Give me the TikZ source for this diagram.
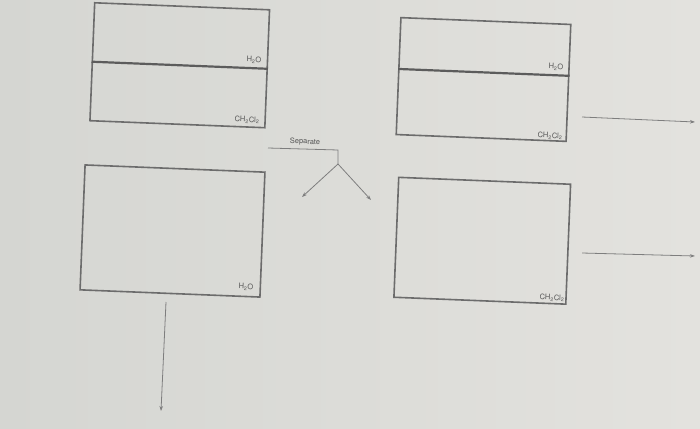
\documentclass[tikz,border=0pt]{standalone}
\usepackage{fontspec}
\setsansfont{TeX Gyre Heros}
\usetikzlibrary{calc,positioning,arrows.meta}
\definecolor{paperL}{HTML}{D5D6D2}
\definecolor{paperR}{HTML}{E3E2DE}
\definecolor{edge}{HTML}{6C6C6C}
\definecolor{wire}{HTML}{7E7E7E}
\definecolor{ink}{HTML}{555555}
\tikzset{
box/.style={draw=edge, line width=1.6pt, rectangle, inner sep=0pt, rotate=-2.3},
divider/.style={draw=edge!85!black, line width=2.2pt},
tag/.style={font=\sffamily\fontsize{7.5}{9}\selectfont, text=ink, inner sep=0pt, rotate=-2.3},
flow/.style={draw=wire, line width=0.8pt, -{Stealth[length=5pt,width=3.5pt]}},
}
\begin{document}
\begin{tikzpicture}[x=1pt,y=-1pt]
\fill[left color=paperL, right color=paperR] (0,0) rectangle (700,428);
\useasboundingbox (0,0) rectangle (700,428);

\node[box, minimum width=175pt, minimum height=118pt] (mixA) at (179.75,65.25) {};
\node[box, minimum width=170pt, minimum height=117pt] (mixB) at (483.5,79.5) {};
\node[box, minimum width=180pt, minimum height=125pt] (aqC) at (172.5,231) {};
\node[box, minimum width=172pt, minimum height=120pt] (orgD) at (482.25,240.75) {};

\draw[divider] ($(mixA.north west)!0.5!(mixA.south west)$) -- ($(mixA.north east)!0.5!(mixA.south east)$);
\draw[divider] ($(mixB.north west)!0.44!(mixB.south west)$) -- ($(mixB.north east)!0.44!(mixB.south east)$);

\node[tag] (watA) at (254,60) {H\textsubscript{2}O};
\node[tag] (dcmA) at (247,120) {CH\textsubscript{2}Cl\textsubscript{2}};
\node[tag] (watB) at (556,67) {H\textsubscript{2}O};
\node[tag] (dcmB) at (550,136) {CH\textsubscript{2}Cl\textsubscript{2}};
\node[tag] (watC) at (246,287) {H\textsubscript{2}O};
\node[tag] (dcmD) at (552,298) {CH\textsubscript{2}Cl\textsubscript{2}};

\coordinate (sepstart) at (268,148);
\coordinate (septurn) at (338,150);
\coordinate (split) at (338,164);
\coordinate (leftout) at (302,197);
\coordinate (rightout) at (371,200);
\node[tag, rotate=1.5] (seplabel) at (305,142) {Separate};
\draw[draw=wire, line width=0.8pt] (sepstart) -- (septurn) -- (split);
\draw[flow] (split) -- (leftout);
\draw[flow] (split) -- (rightout);

\coordinate (outB1) at (582,117);
\coordinate (outB2) at (695,122);
\coordinate (outD1) at (582,253);
\coordinate (outD2) at (695,256);
\coordinate (outC1) at (166,302);
\coordinate (outC2) at (161,411);
\draw[flow] (outB1) -- (outB2);
\draw[flow] (outD1) -- (outD2);
\draw[flow] (outC1) -- (outC2);
\end{tikzpicture}
\end{document}
